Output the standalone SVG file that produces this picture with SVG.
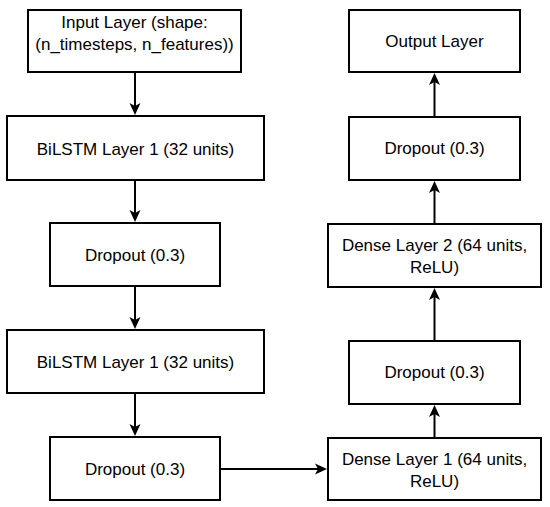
<svg xmlns="http://www.w3.org/2000/svg" width="550" height="507" viewBox="0 0 550 507">
<defs>
<style>
.box{fill:#ffffff;stroke:#000000;stroke-width:2}
.lbl{font-family:"Liberation Sans",Arial,Helvetica,sans-serif;font-size:17px;fill:#000000;text-anchor:middle}
.conn{fill:none;stroke:#000000;stroke-width:2}
</style>
<marker id="arr" viewBox="0 0 12 12" refX="3" refY="6" markerWidth="12" markerHeight="12" markerUnits="userSpaceOnUse" orient="auto">
<path d="M0,0.5 L12,6 L0,11.5 L3,6 Z" fill="#000000"/>
</marker>
</defs>
<rect width="550" height="507" fill="#ffffff"/>
<g id="connectors">
<path class="conn" d="M135,73 V106" marker-end="url(#arr)"/>
<path class="conn" d="M135,181 V213" marker-end="url(#arr)"/>
<path class="conn" d="M135,287 V320" marker-end="url(#arr)"/>
<path class="conn" d="M135,394 V427" marker-end="url(#arr)"/>
<path class="conn" d="M221,469 H318" marker-end="url(#arr)"/>
<path class="conn" d="M434.5,437 V414" marker-end="url(#arr)"/>
<path class="conn" d="M434.5,341 V297" marker-end="url(#arr)"/>
<path class="conn" d="M434.5,224 V190" marker-end="url(#arr)"/>
<path class="conn" d="M434.5,117 V82" marker-end="url(#arr)"/>
</g>
<g id="input">
<rect class="box" x="28" y="10" width="213" height="62"/>
<text class="lbl" x="134.5" y="27.5">Input Layer (shape:</text>
<text class="lbl" x="134.5" y="49.5">(n_timesteps, n_features))</text>
</g>
<g id="bilstm1">
<rect class="box" x="7" y="116" width="257" height="64"/>
<text class="lbl" x="135.5" y="154.5">BiLSTM Layer 1 (32 units)</text>
</g>
<g id="dropout1">
<rect class="box" x="50" y="223" width="170" height="63"/>
<text class="lbl" x="135" y="261">Dropout (0.3)</text>
</g>
<g id="bilstm2">
<rect class="box" x="7" y="330" width="257" height="63"/>
<text class="lbl" x="135.5" y="368">BiLSTM Layer 1 (32 units)</text>
</g>
<g id="dropout2">
<rect class="box" x="50" y="437" width="170" height="63"/>
<text class="lbl" x="135" y="474.5">Dropout (0.3)</text>
</g>
<g id="dense1">
<rect class="box" x="328" y="438" width="213" height="62"/>
<text class="lbl" x="434.5" y="464.5">Dense Layer 1 (64 units,</text>
<text class="lbl" x="434.5" y="486.5">ReLU)</text>
</g>
<g id="dropout3">
<rect class="box" x="349" y="341" width="171" height="63"/>
<text class="lbl" x="434.5" y="378">Dropout (0.3)</text>
</g>
<g id="dense2">
<rect class="box" x="328" y="224" width="213" height="63"/>
<text class="lbl" x="434.5" y="251">Dense Layer 2 (64 units,</text>
<text class="lbl" x="434.5" y="273">ReLU)</text>
</g>
<g id="dropout4">
<rect class="box" x="349" y="117" width="171" height="63"/>
<text class="lbl" x="434.5" y="154">Dropout (0.3)</text>
</g>
<g id="output">
<rect class="box" x="349" y="10" width="171" height="62"/>
<text class="lbl" x="434.5" y="47">Output Layer</text>
</g>
</svg>
